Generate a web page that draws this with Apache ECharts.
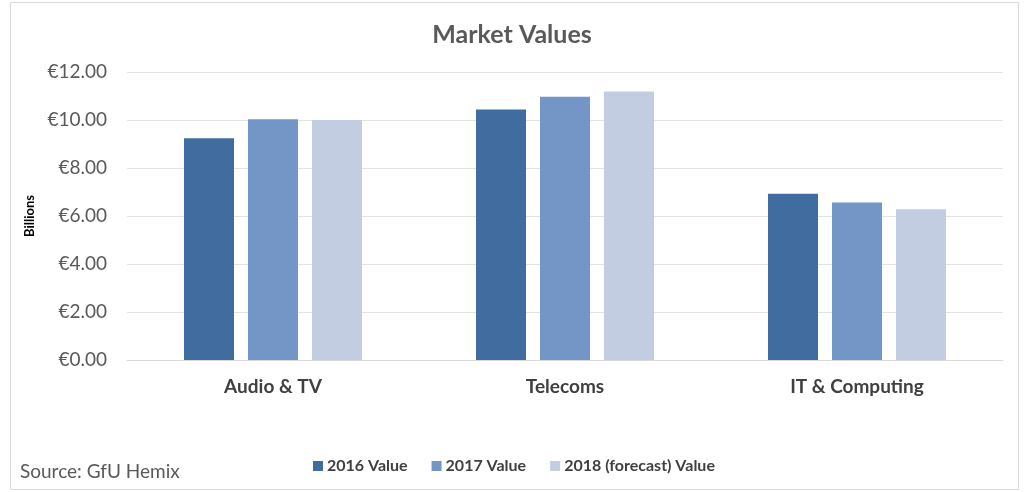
<!DOCTYPE html>
<html><head><meta charset="utf-8">
<script src="https://cdn.jsdelivr.net/npm/echarts@6/dist/echarts.min.js"></script>
<style>html,body{margin:0;padding:0;background:#fff}#c{width:1024px;height:492px}</style>
</head><body><div id="c"></div>
<script>
const categories = ['Audio & TV', 'Telecoms', 'IT & Computing'];
const seriesNames = ['2016 Value', '2017 Value', '2018 (forecast) Value'];
const v2016 = [9.24, 10.44, 6.93];
const v2017 = [10.03, 10.97, 6.56];
const v2018 = [10.0, 11.19, 6.28];
const colors = ['#416c9f', '#7396c6', '#c3cde2'];
const FONT = 'Lato';
const chart = echarts.init(document.getElementById('c'), null, {renderer: 'canvas'});
const data = [v2016, v2017, v2018];
chart.setOption({
  animation: false,
  textStyle: {fontFamily: FONT},
  title: {text: 'Market Values', left: 'center', top: 17,
    textStyle: {fontFamily: FONT, fontSize: 25, fontWeight: 'bold', color: '#595959'}},
  graphic: [
    {type: 'rect', left: 8, top: 0, shape: {width: 1008, height: 487},
     style: {fill: 'none', stroke: '#d9d9d9', lineWidth: 1}, silent: true},
    {type: 'text', left: 20, top: 462,
     style: {text: 'Source: GfU Hemix', font: '19px ' + FONT, fill: '#595959'}}
  ],
  legend: {top: 453, left: 308, itemWidth: 10, itemHeight: 10, itemGap: 24,
    icon: 'rect', data: seriesNames,
    textStyle: {fontFamily: FONT, fontSize: 16, fontWeight: 'bold', color: '#404040', padding: [0, 0, 0, -1]}},
  grid: {left: 127, right: 21, top: 72, bottom: 132, containLabel: false},
  xAxis: {type: 'category', data: categories,
    axisLine: {lineStyle: {color: '#d9d9d9'}}, axisTick: {show: false},
    axisLabel: {fontFamily: FONT, fontSize: 19, fontWeight: 'bold', color: '#404040', margin: 17}},
  yAxis: {type: 'value', min: 0, max: 12, interval: 2,
    name: 'Billions', nameLocation: 'middle', nameGap: 81, nameRotate: 90,
    nameTextStyle: {fontFamily: FONT, fontSize: 13, fontWeight: 'bold', color: '#000'},
    axisLine: {show: false}, axisTick: {show: false},
    splitLine: {lineStyle: {color: '#e3e3e3', width: 1}},
    axisLabel: {fontFamily: FONT, fontSize: 19, color: '#595959', margin: 20,
      formatter: v => '€' + v.toFixed(2)}},
  series: seriesNames.map((n, i) => ({
    name: n, type: 'bar', data: data[i], barWidth: 50, barGap: '28%',
    itemStyle: {color: colors[i]}
  }))
});
</script></body></html>
